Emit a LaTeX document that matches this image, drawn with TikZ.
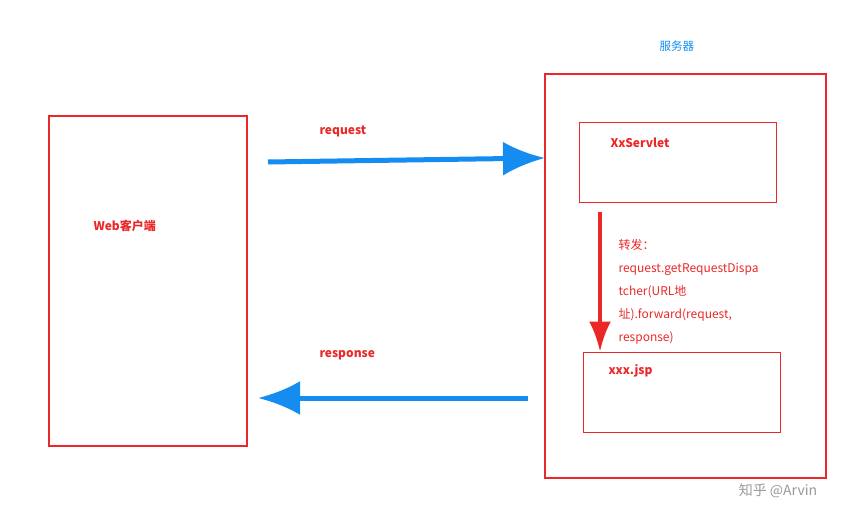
\documentclass[tikz,border=0pt]{standalone}
\usepackage{fontspec}
\setmainfont{Noto Sans CJK SC}
\usetikzlibrary{arrows.meta,positioning}
\definecolor{boxred}{RGB}{235,40,40}
\definecolor{arrowblue}{RGB}{20,140,240}
\begin{document}
\begin{tikzpicture}
[x=1pt,y=-1pt,
box/.style={draw=boxred,line width=2.5pt},
inbox/.style={draw=boxred,line width=0.8pt},
lbl/.style={text=boxred,font=\fontsize{12}{14}\selectfont\bfseries,anchor=west},
bigarrow/.style={arrowblue,line width=5pt,-{Latex[length=42pt,width=34pt]}}]
\useasboundingbox (0,0) rectangle (859,526);
% boxes
\node (client) at (148,281) [box,minimum width=198pt,minimum height=330pt] {};
\node (server) at (685.5,276) [box,minimum width=281pt,minimum height=404pt] {};
\node (servlet) at (677.5,162) [inbox,minimum width=197pt,minimum height=80pt] {};
\node (jsp) at (681.5,392) [inbox,minimum width=197pt,minimum height=80pt] {};
% labels
\node (clientlbl) at (90,226) [lbl] {Web客户端};
\node (serverlbl) at (656,46) [lbl,text=arrowblue,font=\fontsize{11.5}{13}\selectfont] {服务器};
\node (servletlbl) at (607,143) [lbl] {XxServlet};
\node (jsplbl) at (605,371) [lbl] {xxx.jsp};
\node (reqlbl) at (316,131) [lbl] {request};
\node (resplbl) at (316,355) [lbl] {response};
\node (fwdlbl) at (615,292) [lbl,font=\fontsize{12}{23}\selectfont,align=left]
  {转发：\\request.getRequestDispa\\tcher(URL地\\址).forward(request,\\response)};
% arrows
\coordinate (reqstart) at (268,162);
\coordinate (reqend) at (545,158);
\coordinate (respstart) at (528,398);
\coordinate (respend) at (258,398);
\coordinate (fwdstart) at (600,212);
\draw[bigarrow] (reqstart) -- (reqend);
\draw[bigarrow] (respstart) -- (respend);
\draw[boxred,line width=4pt,-{Latex[length=30pt,width=22pt]}] (fwdstart) -- (fwdstart |- jsp.north);
% watermark
\node (mark) at (778,491) [text=gray!80,font=\fontsize{14}{16}\selectfont] {知乎 @Arvin};
\end{tikzpicture}
\end{document}
